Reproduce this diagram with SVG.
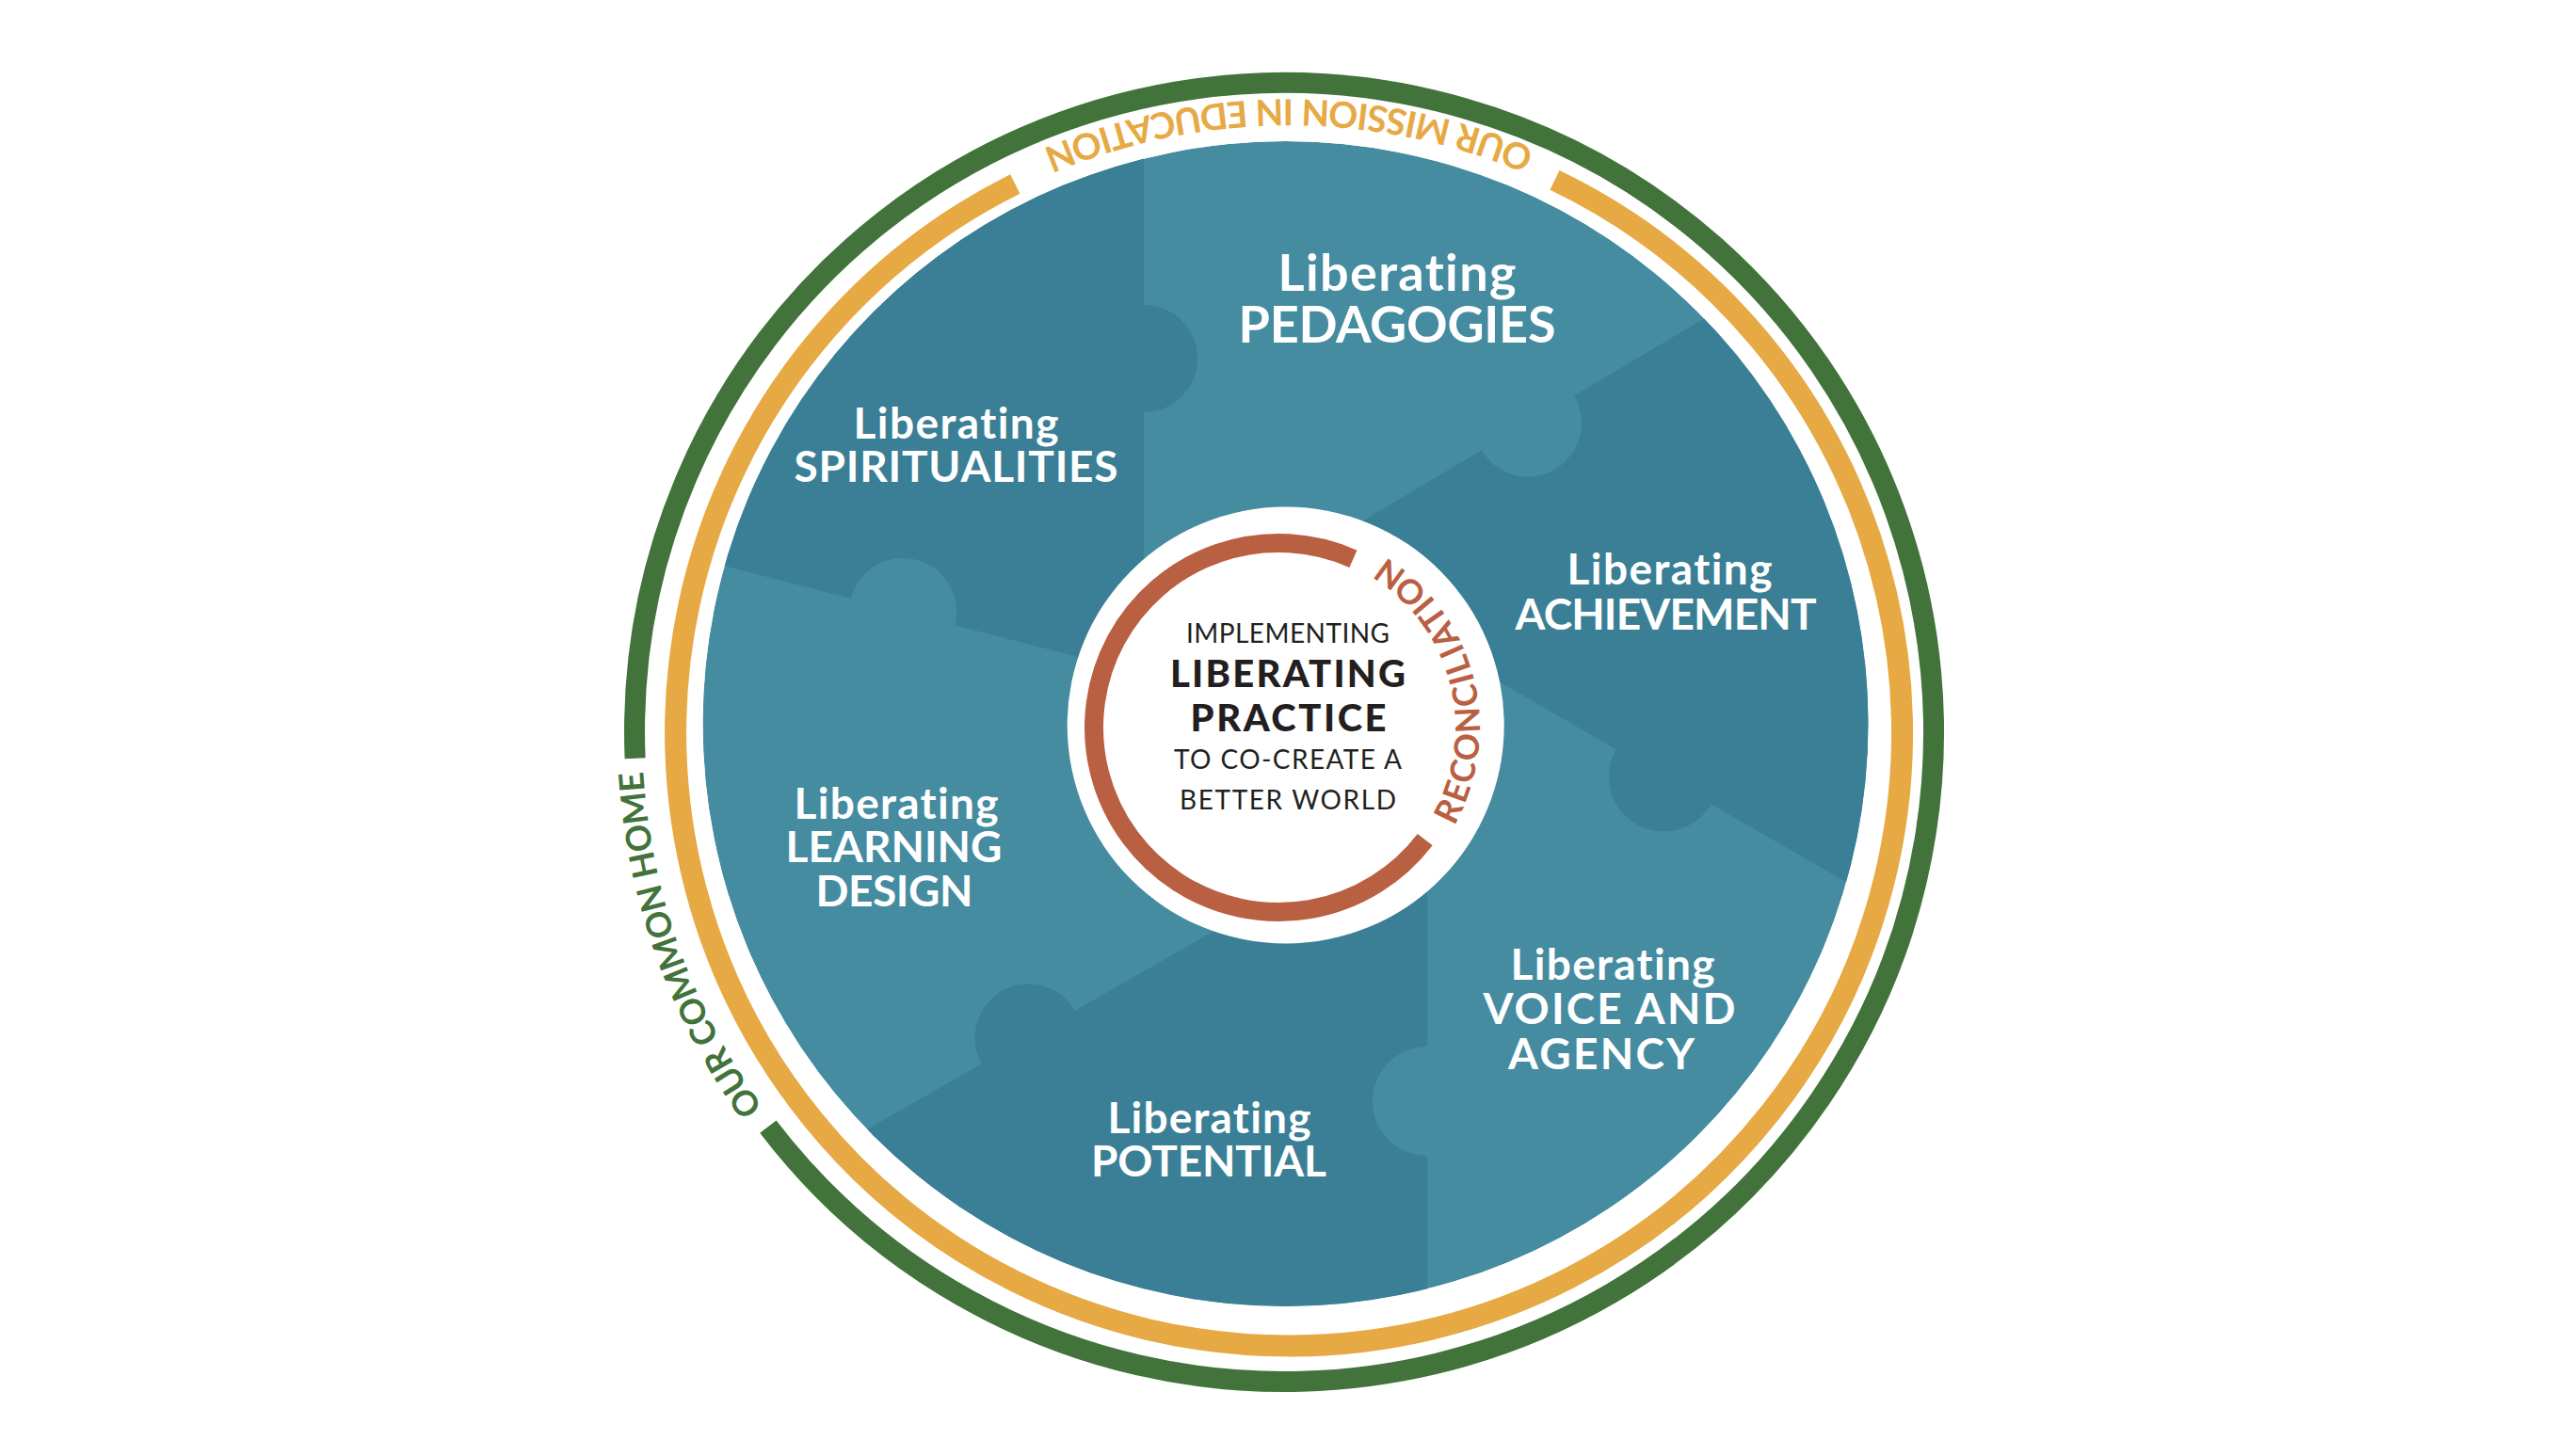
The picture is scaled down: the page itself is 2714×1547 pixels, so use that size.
<svg xmlns="http://www.w3.org/2000/svg" width="2714" height="1547" viewBox="0 0 2714 1547">
<defs>
<style>
text{font-variant-ligatures:none;font-feature-settings:"liga" 0}
.lbl{font-family:Lato,"Noto Sans",sans-serif;font-weight:700;fill:#ffffff;text-anchor:middle}
.s{font-size:46px}
.b{font-size:54px}
.ctr{font-family:Lato,"Noto Sans",sans-serif;fill:#231f20;text-anchor:middle}
.thin{font-size:28px;font-weight:400}
.heavy{font-size:40px;font-weight:900}
.arc{font-family:Lato,"Noto Sans",sans-serif;font-weight:700;text-anchor:middle}
.light{fill:#458ca1}
.dark{fill:#3a7f95}
.ring{fill:none}
</style>
<clipPath id="wheel"><circle cx="1365.5" cy="769" r="619"/></clipPath>
<path id="p-mission" d="M 2042 778.5 A 673 673 0 0 0 696 778.5"/>
<path id="p-home" d="M 1245.6 1449.6 A 682 682 0 0 1 841.6 339.6"/>
<path id="p-recon" d="M 1465 958.3 A 214 214 0 0 0 1358 559"/>
</defs>
<rect x="0" y="0" width="2714" height="1547" fill="#ffffff"/>

<g id="outer-rings">
  <path class="ring" d="M 674.6 805.7 A 690 690 0 1 1 815.9 1197.1" stroke="#41733b" stroke-width="22"/>
  <path class="ring" d="M 1651.5 191.4 A 651.5 651.5 0 1 1 1078.3 195.5" stroke="#e6a944" stroke-width="23"/>
  <text class="arc" font-size="38.5" fill="#e6a944"><textPath href="#p-mission" startOffset="50%" textLength="537" lengthAdjust="spacing">OUR MISSION IN EDUCATION</textPath></text>
  <text class="arc" font-size="36.5" fill="#41733b"><textPath href="#p-home" startOffset="50.3%" textLength="384" lengthAdjust="spacing">OUR COMMON HOME</textPath></text>
</g>

<g id="wheel-pieces" clip-path="url(#wheel)">
  <circle class="light" cx="1365.5" cy="769" r="619"/>
  <g id="piece-spiritualities"><polygon class="dark" points="1215,100 700,100 700,583.3 1215,716"/></g>
  <g id="piece-achievement"><polygon class="dark" points="1373,597.5 2066,187 2222,1088"/></g>
  <g id="piece-potential"><polygon class="dark" points="1516,860 1516,1500 660,1500 660,1349"/></g>
  <g id="tabs">
    <circle class="dark" cx="1215" cy="381" r="57"/>
    <circle class="dark" cx="1767" cy="825.5" r="58"/>
    <circle class="dark" cx="1092.5" cy="1102.5" r="57"/>
    <circle class="light" cx="1623" cy="449.5" r="57"/>
    <circle class="light" cx="1516" cy="1170" r="58"/>
    <circle class="light" cx="959" cy="650" r="57"/>
  </g>
</g>

<g id="node-pedagogies">
  <text class="lbl b" x="1484" y="309" textLength="253" lengthAdjust="spacing">Liberating</text>
  <text class="lbl b" x="1484" y="364" textLength="337" lengthAdjust="spacing">PEDAGOGIES</text>
</g>
<g id="node-spiritualities">
  <text class="lbl s" x="1015.5" y="466" textLength="218" lengthAdjust="spacing">Liberating</text>
  <text class="lbl s" x="1015.5" y="512" textLength="344" lengthAdjust="spacing">SPIRITUALITIES</text>
</g>
<g id="node-achievement">
  <text class="lbl s" x="1773.5" y="621" textLength="218" lengthAdjust="spacing">Liberating</text>
  <text class="lbl s" x="1769.5" y="669" textLength="320" lengthAdjust="spacing">ACHIEVEMENT</text>
</g>
<g id="node-learning-design">
  <text class="lbl s" x="952" y="870" textLength="217" lengthAdjust="spacing">Liberating</text>
  <text class="lbl s" x="949.5" y="916" textLength="230" lengthAdjust="spacing">LEARNING</text>
  <text class="lbl s" x="950" y="963" textLength="167" lengthAdjust="spacing">DESIGN</text>
</g>
<g id="node-voice-agency">
  <text class="lbl s" x="1713" y="1041" textLength="217" lengthAdjust="spacing">Liberating</text>
  <text class="lbl s" x="1709.5" y="1088" textLength="268" lengthAdjust="spacing">VOICE AND</text>
  <text class="lbl s" x="1701" y="1136" textLength="198" lengthAdjust="spacing">AGENCY</text>
</g>
<g id="node-potential">
  <text class="lbl s" x="1284.5" y="1204" textLength="216" lengthAdjust="spacing">Liberating</text>
  <text class="lbl s" x="1284" y="1250" textLength="250" lengthAdjust="spacing">POTENTIAL</text>
</g>

<g id="node-centre">
  <circle cx="1365.7" cy="770.5" r="232" fill="#ffffff"/>
  <path class="ring" d="M 1513.7 892.1 A 196 196 0 1 1 1437.4 593.8" stroke="#b96043" stroke-width="20"/>
  <text class="arc" font-size="36" fill="#b96043"><textPath href="#p-recon" startOffset="49.5%" textLength="325" lengthAdjust="spacing">RECONCILIATION</textPath></text>
  <text class="ctr thin" x="1368" y="683" textLength="216" lengthAdjust="spacing">IMPLEMENTING</text>
  <text class="ctr heavy" x="1368" y="730" textLength="250" lengthAdjust="spacing">LIBERATING</text>
  <text class="ctr heavy" x="1368.5" y="777" textLength="208" lengthAdjust="spacing">PRACTICE</text>
  <text class="ctr thin" x="1368" y="817" textLength="242" lengthAdjust="spacing">TO CO-CREATE A</text>
  <text class="ctr thin" x="1368" y="860" textLength="230" lengthAdjust="spacing">BETTER WORLD</text>
</g>
</svg>
